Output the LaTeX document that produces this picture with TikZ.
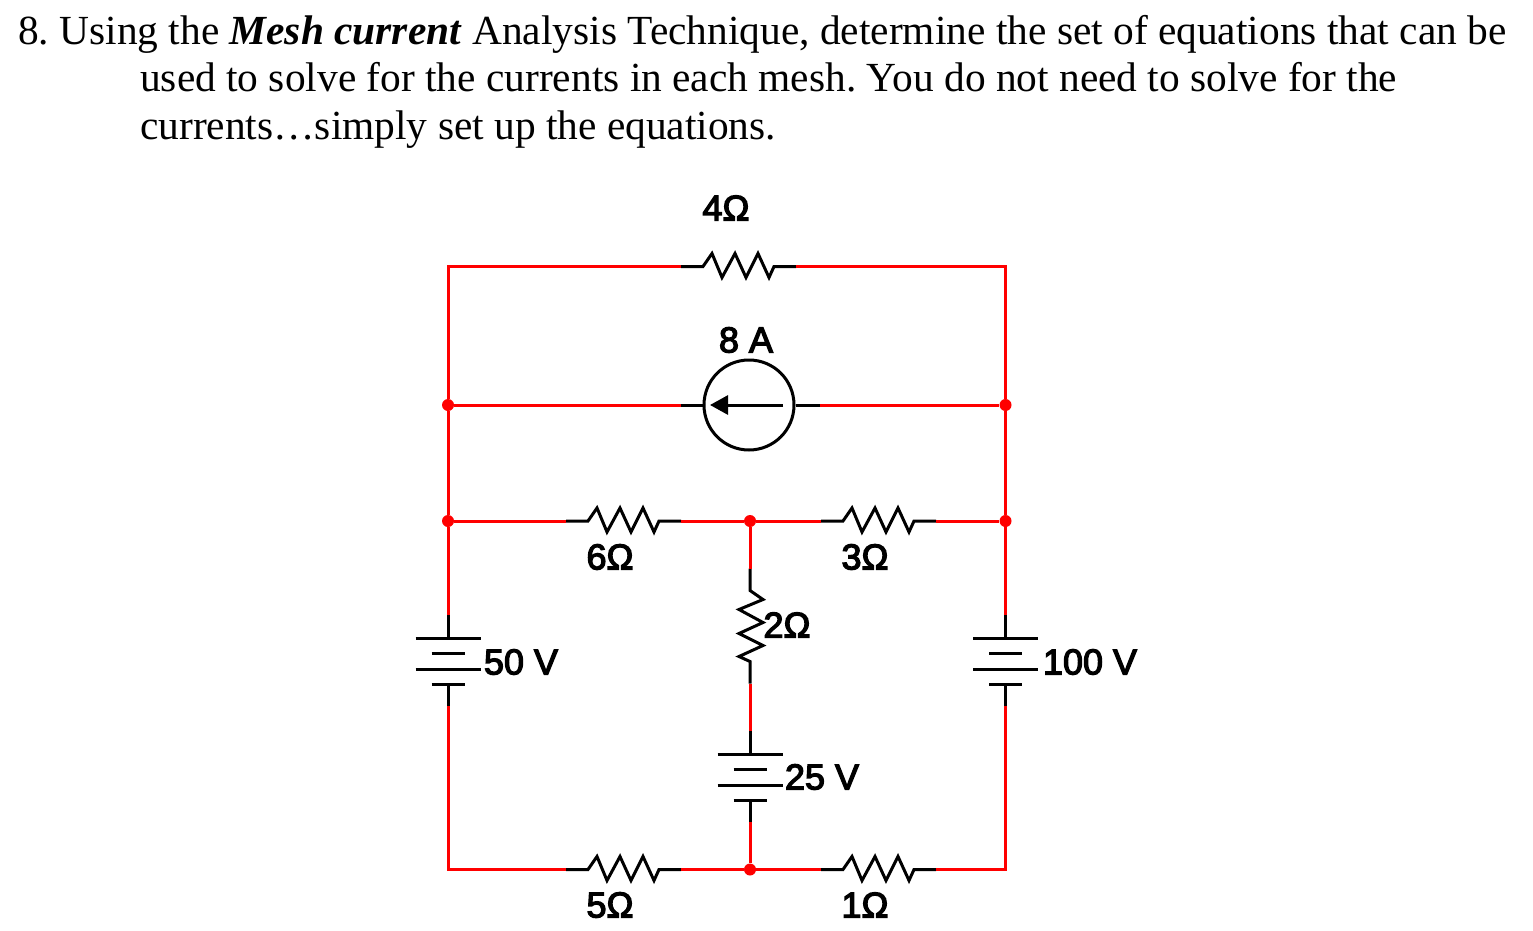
\documentclass[tikz,border=0pt]{standalone}
\usepackage{fontspec}
\setmainfont{Liberation Serif}
\newfontfamily\labelfont[FakeBold=3.5]{Liberation Sans}
\definecolor{wirered}{RGB}{255,0,0}
\usetikzlibrary{arrows.meta}
\tikzset
{
    wire/.style     = {draw=wirered, line width=3pt, line join=miter},
    part/.style     = {draw=black, line width=3pt, line join=miter},
    junction/.style = {circle, fill=wirered, inner sep=0pt, minimum size=12pt},
    value/.style    = {font=\labelfont\fontsize{36}{36}\selectfont, inner sep=0pt},
    textline/.style = {font=\frenchspacing\fontsize{41.4}{47}\selectfont, anchor=base west, inner sep=0pt},
    source/.style   = {circle, draw=black, line width=3pt, inner sep=0pt, minimum size=90pt},
    resistor/.pic   = {
        \coordinate (-a) at (-57.5,0);
        \coordinate (-b) at (57.5,0);
        \draw [part] (-a) -- (-35.5,0) -- (-26.5,-13) -- (-16.5,11) -- (-3.5,-13) -- (7.5,11) -- (19.5,-13) -- (30.5,11) -- (35.5,0) -- (-b);
    },
    battery/.pic    = {
        \coordinate (-a) at (0,-45.5);
        \coordinate (-b) at (0,45.5);
        \draw [part] (-a) -- (0,-22.5);
        \draw [part] (-32.5,-22.5) -- (32.5,-22.5);
        \draw [part] (-16.5,-7.5) -- (16.5,-7.5);
        \draw [part] (-32.5,8.5) -- (32.5,8.5);
        \draw [part] (-16.5,23.5) -- (16.5,23.5);
        \draw [part] (0,23.5) -- (-b);
    }
}
\begin{document}
\begin{tikzpicture}[x=1pt,y=-1pt]
\useasboundingbox (0,0) rectangle (1533,931);
% problem text
\node [textline] at (18,45) (line1) {8. Using the \textbf{\textit{Mesh current}} Analysis Technique, determine the set of equations that can be};
\node [textline] at (140,92) (line2) {used to solve for the currents in each mesh. You do not need to solve for the};
\node [textline] at (140,139.5) (line3) {currents\ldots simply set up the equations.};
% corners
\coordinate (tl) at (448,266.5);
\coordinate (tr) at (1005.5,266.5);
\coordinate (bl) at (448,869.5);
\coordinate (br) at (1005.5,869.5);
% junctions
\node [junction] at (448,405) (j1) {};
\node [junction] at (1005.5,405) (j2) {};
\node [junction] at (448,521) (j3) {};
\node [junction] at (1005.5,521) (j4) {};
\node [junction] at (750,521) (j5) {};
\node [junction] at (750,869.5) (j6) {};
% parts
\pic (r4) at (738.5,266.5) {resistor};
\pic (r6) at (623.5,521) {resistor};
\pic (r3) at (878.5,521) {resistor};
\pic (r5) at (623.5,869.5) {resistor};
\pic (r1) at (878.5,869.5) {resistor};
\pic [rotate=-90] (r2) at (750,626) {resistor};
\pic (b50) at (448,660.5) {battery};
\pic (b100) at (1005.5,660.5) {battery};
\pic (b25) at (750,776.5) {battery};
\node [source] at (749,405) (src) {};
\coordinate (srca) at (681,405);
\coordinate (srcb) at (820,405);
\draw [part] (srca) -- (src);
\draw [part] (src) -- (srcb);
\draw [part, -{Triangle[length=18pt,width=19pt]}] (783,405) -- (710,405);
% wires
\draw [wire] (j1) -- (tl) -- (r4-a);
\draw [wire] (r4-b) -- (tr) -- (j2);
\draw [wire] (j1) -- (srca);
\draw [wire] (srcb) -- (j2);
\draw [wire] (j1) -- (j3);
\draw [wire] (j2) -- (j4);
\draw [wire] (j3) -- (r6-a);
\draw [wire] (r6-b) -- (j5);
\draw [wire] (j5) -- (r3-a);
\draw [wire] (r3-b) -- (j4);
\draw [wire] (j3) -- (b50-a);
\draw [wire] (j4) -- (b100-a);
\draw [wire] (b50-b) -- (bl) -- (r5-a);
\draw [wire] (r5-b) -- (j6);
\draw [wire] (j6) -- (r1-a);
\draw [wire] (r1-b) -- (br) -- (b100-b);
\draw [wire] (j5) -- (r2-a);
\draw [wire] (r2-b) -- (b25-a);
\draw [wire] (b25-b) -- (j6);
% values
\node [value] at (726,208) (v4) {4Ω};
\node [value] at (746,340) (v8) {8 A};
\node [value] at (610,557) (v6) {6Ω};
\node [value] at (865,557) (v3) {3Ω};
\node [value] at (610,905) (v5) {5Ω};
\node [value] at (865,905) (v1) {1Ω};
\node [value] at (787,625) (v2) {2Ω};
\node [value] at (521,662) (v50) {50 V};
\node [value] at (1090,662) (v100) {100 V};
\node [value] at (822,777) (v25) {25 V};
\end{tikzpicture}
\end{document}
